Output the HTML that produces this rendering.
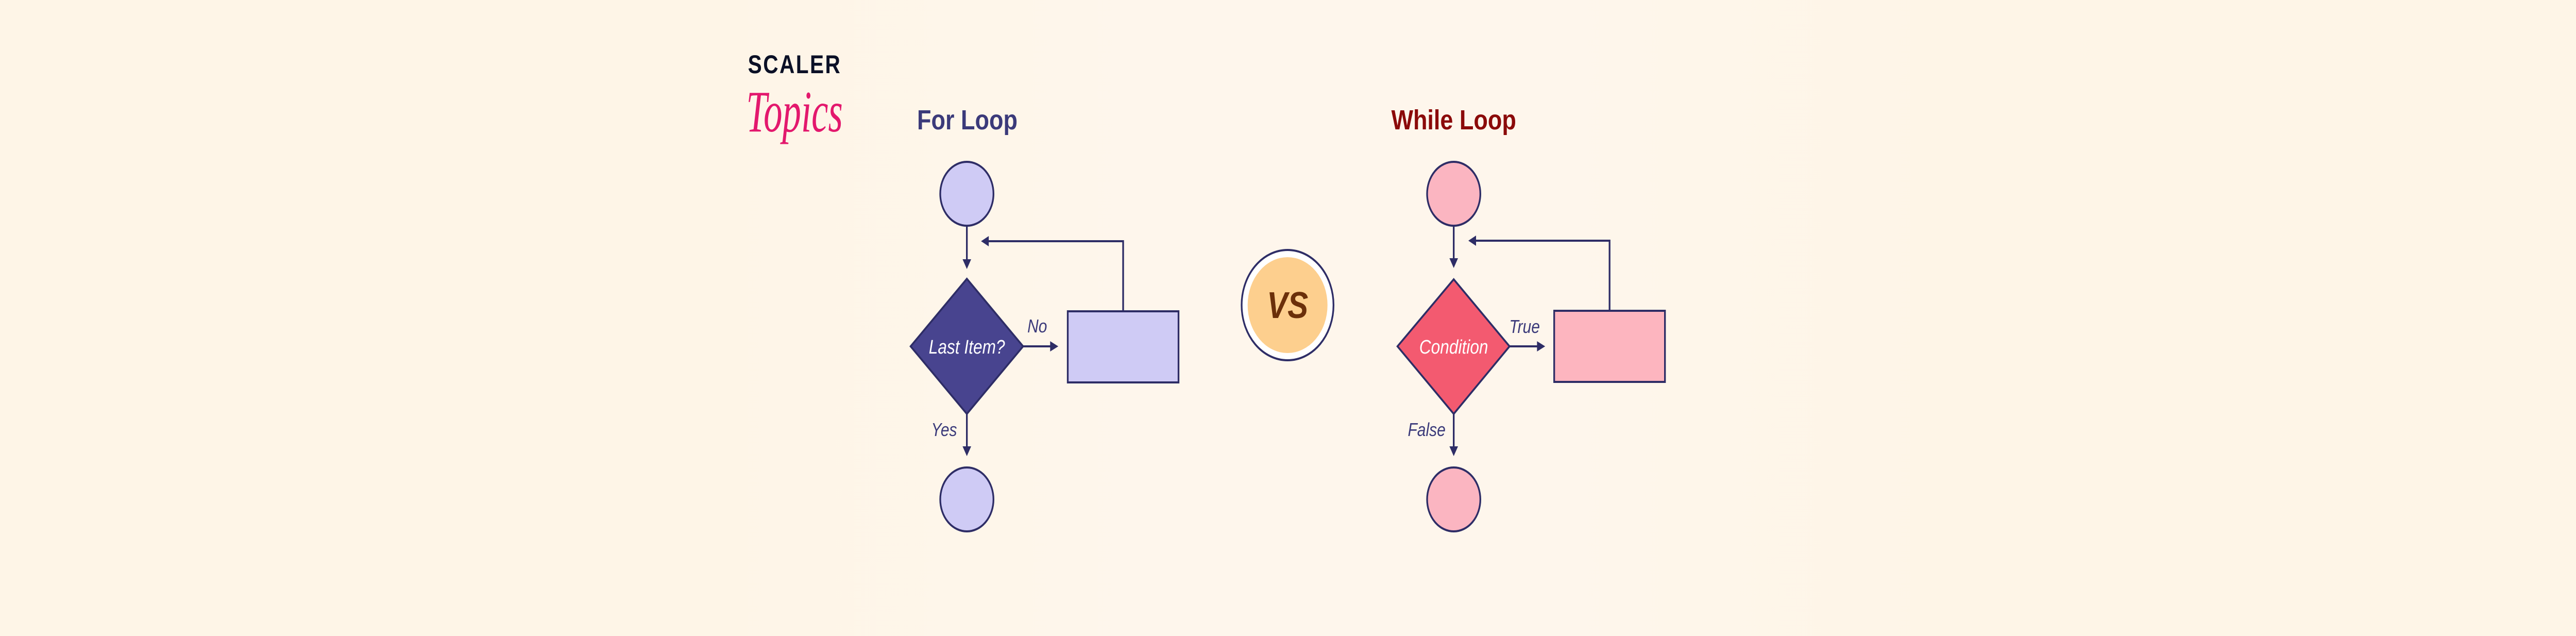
<!DOCTYPE html>
<html><head><meta charset="utf-8"><style>
html,body{margin:0;padding:0;width:100%;height:100%;overflow:hidden}
body{background:linear-gradient(90deg,#fef5e7 0%,#fef5e7 28%,#fef6ec 45%,#fef6ec 60%,#fef5e7 75%,#fef5e7 100%)}
svg{display:block;width:100vw;height:100vh}
</style></head><body>
<svg viewBox="0 0 6000 1234" preserveAspectRatio="none" xmlns="http://www.w3.org/2000/svg">
<g font-family="Liberation Sans, sans-serif">
<text x="1742" y="142" font-size="50" font-weight="bold" fill="#0b1026" letter-spacing="3" textLength="218" lengthAdjust="spacingAndGlyphs">SCALER</text>
<text x="1738" y="255" font-size="115" font-style="italic" font-family="Liberation Serif, serif" fill="#e3186d" textLength="225" lengthAdjust="spacingAndGlyphs">Topics</text>

<text x="2253" y="251" font-size="54" fill="#3b3a7a" text-anchor="middle" font-weight="bold">For Loop</text>
<text x="3386" y="251" font-size="54" fill="#8b0a0a" text-anchor="middle" font-weight="bold">While Loop</text>
</g>

<g stroke="#2e2d66" stroke-width="4">
<circle cx="2252" cy="376" r="62" fill="#cfcbf5"/>
<line x1="2252" y1="438" x2="2252" y2="505"/>
<polyline points="2300,468 2616,468 2616,604" fill="none"/>
<polygon points="2121,672 2252,541 2383,672 2252,803" fill="#48448f"/>
<line x1="2383" y1="672" x2="2448" y2="672"/>
<rect x="2487" y="604" width="258" height="138" fill="#cfcbf5"/>
<line x1="2252" y1="803" x2="2252" y2="868"/>
<circle cx="2252" cy="969" r="62" fill="#cfcbf5"/>
<circle cx="3386" cy="376" r="62" fill="#fbb5c1"/>
<line x1="3386" y1="438" x2="3386" y2="505"/>
<polyline points="3435,467 3749,467 3749,603" fill="none"/>
<polygon points="3255,672 3386,542 3516,672 3386,803" fill="#f35a70"/>
<line x1="3516" y1="672" x2="3582" y2="672"/>
<rect x="3620" y="603" width="258" height="138" fill="#fdb5bf"/>
<line x1="3386" y1="803" x2="3386" y2="868"/>
<circle cx="3386" cy="969" r="62" fill="#fbb5c1"/>
<circle cx="2999" cy="592" r="107" fill="#ffffff"/>
</g>
<circle cx="2999" cy="592" r="93" fill="#fdcf8e"/>
<g fill="#2e2d66">
<polygon points="2242,503 2262,503 2252,522"/>
<polygon points="2285,468 2303,458 2303,478"/>
<polygon points="2446,662 2446,682 2465,672"/>
<polygon points="2242,866 2262,866 2252,885"/>
<polygon points="3376,501 3396,501 3386,520"/>
<polygon points="3420,467 3438,457 3438,477"/>
<polygon points="3580,662 3580,682 3599,672"/>
<polygon points="3376,866 3396,866 3386,885"/>
</g>
<g font-family="Liberation Sans, sans-serif" font-style="italic">
<text x="2252" y="686" font-size="38" fill="#ffffff" text-anchor="middle">Last Item?</text>
<text x="2416" y="645" font-size="36" fill="#3b3a7a" text-anchor="middle">No</text>
<text x="2199" y="846" font-size="36" fill="#3b3a7a" text-anchor="middle">Yes</text>
<text x="3386" y="686" font-size="38" fill="#ffffff" text-anchor="middle">Condition</text>
<text x="3551" y="646" font-size="36" fill="#3b3a7a" text-anchor="middle">True</text>
<text x="3323" y="846" font-size="36" fill="#3b3a7a" text-anchor="middle">False</text>
<text x="2999" y="617" font-size="72" font-weight="bold" fill="#6b2f0a" text-anchor="middle">VS</text>
</g>
</svg>
</body></html>
